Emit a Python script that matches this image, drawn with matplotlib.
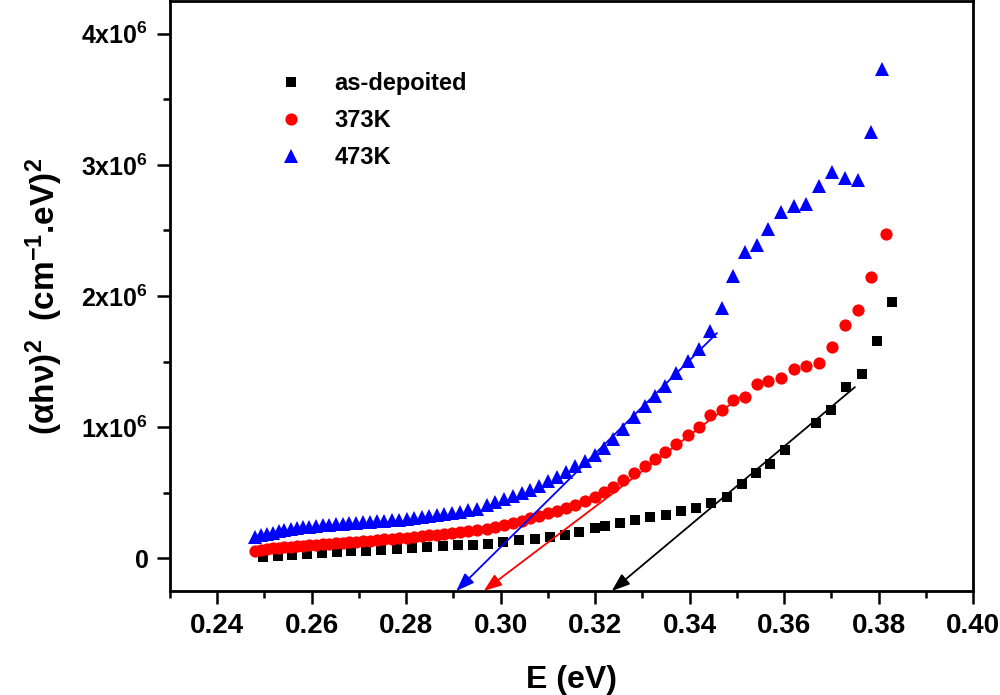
import numpy as np
import matplotlib
matplotlib.use("Agg")
import matplotlib.pyplot as plt
from matplotlib.ticker import MultipleLocator

plt.rcParams['font.family'] = ['Liberation Sans', 'DejaVu Sans']
plt.rcParams['font.weight'] = 'bold'
plt.rcParams['mathtext.fontset'] = 'custom'
plt.rcParams['mathtext.rm'] = 'Liberation Sans:bold'
plt.rcParams['mathtext.it'] = 'Liberation Sans:bold'
plt.rcParams['mathtext.bf'] = 'Liberation Sans:bold'
plt.rcParams['mathtext.default'] = 'rm'

# as-depoited (E in eV, (ahv)^2 in 1e6)
E_asdep = [0.2497, 0.2528, 0.2559, 0.2590, 0.2622, 0.2654, 0.2684, 0.2715, 0.2747, 0.2781,
           0.2813, 0.2844, 0.2878, 0.2910, 0.2942, 0.2974, 0.3006, 0.3039, 0.3072, 0.3104,
           0.3136, 0.3166, 0.3200, 0.3221, 0.3253, 0.3285, 0.3317, 0.3350, 0.3382, 0.3414,
           0.3446, 0.3479, 0.3510, 0.3541, 0.3570, 0.3603, 0.3667, 0.3699, 0.3732, 0.3764,
           0.3797, 0.3829]
A_asdep = [0.011, 0.018, 0.025, 0.033, 0.040, 0.048, 0.053, 0.057, 0.065, 0.072,
           0.080, 0.086, 0.091, 0.099, 0.104, 0.112, 0.124, 0.137, 0.145, 0.162,
           0.175, 0.200, 0.231, 0.244, 0.269, 0.290, 0.315, 0.333, 0.358, 0.381,
           0.421, 0.467, 0.569, 0.653, 0.722, 0.823, 1.031, 1.128, 1.305, 1.407,
           1.656, 1.953]

# 373K
E_373 = [0.2479, 0.2492, 0.2505, 0.2518, 0.2530, 0.2542, 0.2556, 0.2569, 0.2582, 0.2595,
         0.2609, 0.2623, 0.2637, 0.2651, 0.2666, 0.2680, 0.2694, 0.2709, 0.2723, 0.2738,
         0.2753, 0.2769, 0.2785, 0.2801, 0.2817, 0.2833, 0.2849, 0.2865, 0.2880, 0.2897,
         0.2914, 0.2931, 0.2950, 0.2971, 0.2988, 0.3007, 0.3026, 0.3045, 0.3062, 0.3081,
         0.3101, 0.3119, 0.3139, 0.3158, 0.3179, 0.3199, 0.3219, 0.3238, 0.3259, 0.3283,
         0.3306, 0.3327, 0.3348, 0.3371, 0.3397, 0.3420, 0.3443, 0.3469, 0.3492, 0.3517,
         0.3543, 0.3566, 0.3594, 0.3621, 0.3647, 0.3674, 0.3702, 0.3729, 0.3757, 0.3784,
         0.3816]
A_373 = [0.057, 0.065, 0.072, 0.076, 0.080, 0.084, 0.088, 0.091, 0.095, 0.099,
         0.103, 0.107, 0.110, 0.114, 0.118, 0.122, 0.126, 0.130, 0.135, 0.139,
         0.145, 0.149, 0.152, 0.158, 0.164, 0.169, 0.175, 0.181, 0.187, 0.194,
         0.202, 0.210, 0.217, 0.225, 0.236, 0.251, 0.269, 0.286, 0.305, 0.324,
         0.343, 0.362, 0.381, 0.404, 0.437, 0.467, 0.505, 0.543, 0.594, 0.650,
         0.703, 0.760, 0.810, 0.874, 0.937, 1.000, 1.090, 1.133, 1.209, 1.229,
         1.331, 1.351, 1.374, 1.445, 1.463, 1.488, 1.610, 1.778, 1.890, 2.146,
         2.471]

# 473K
E_473 = [0.2479, 0.2492, 0.2505, 0.2518, 0.2530, 0.2542, 0.2556, 0.2569, 0.2582, 0.2595,
         0.2609, 0.2623, 0.2637, 0.2651, 0.2666, 0.2680, 0.2694, 0.2709, 0.2723, 0.2738,
         0.2753, 0.2769, 0.2785, 0.2801, 0.2817, 0.2833, 0.2849, 0.2865, 0.2880, 0.2897,
         0.2914, 0.2931, 0.2950, 0.2971, 0.2988, 0.3007, 0.3026, 0.3045, 0.3062, 0.3081,
         0.3101, 0.3119, 0.3139, 0.3158, 0.3179, 0.3199, 0.3219, 0.3238, 0.3259, 0.3283,
         0.3306, 0.3327, 0.3348, 0.3371, 0.3397, 0.3420, 0.3443, 0.3469, 0.3492, 0.3517,
         0.3543, 0.3566, 0.3594, 0.3621, 0.3647, 0.3674, 0.3702, 0.3729, 0.3757, 0.3784,
         0.3807]
A_473 = [0.162, 0.175, 0.185, 0.196, 0.206, 0.213, 0.223, 0.231, 0.236, 0.242,
         0.246, 0.251, 0.254, 0.259, 0.264, 0.267, 0.269, 0.274, 0.280, 0.282,
         0.286, 0.290, 0.295, 0.299, 0.307, 0.315, 0.320, 0.328, 0.335, 0.343,
         0.350, 0.366, 0.379, 0.406, 0.427, 0.450, 0.472, 0.495, 0.522, 0.549,
         0.587, 0.619, 0.659, 0.701, 0.743, 0.789, 0.838, 0.907, 0.983, 1.074,
         1.158, 1.234, 1.316, 1.412, 1.506, 1.595, 1.730, 1.907, 2.149, 2.339,
         2.390, 2.509, 2.644, 2.686, 2.702, 2.840, 2.949, 2.898, 2.885, 3.253,
         3.733]

# linear fits: arrow tip on the E axis (band gap) and upper end of the line
fit_gap = [0.3235, 0.2964, 0.2906]
fit_end_E = [0.3750, 0.3517, 0.3458]
fit_end_A = [1.305, 1.257, 1.717]
fit_colors = ['black', 'red', 'blue']

x_ticks = [0.24, 0.26, 0.28, 0.30, 0.32, 0.34, 0.36, 0.38, 0.40]
x_labels = ['0.24', '0.26', '0.28', '0.30', '0.32', '0.34', '0.36', '0.38', '0.40']
y_ticks = [0, 1e6, 2e6, 3e6, 4e6]
y_labels = ['0', '1x10$^{6}$', '2x10$^{6}$', '3x10$^{6}$', '4x10$^{6}$']

fig = plt.figure(figsize=(10, 6.95), dpi=100)
ax = fig.add_axes([0.170, 0.1496, 0.803, 0.849])

ax.plot(E_asdep, np.array(A_asdep) * 1e6, 's', color='black', ms=7.2, mew=0, label='as-depoited')
ax.plot(E_373, np.array(A_373) * 1e6, 'o', color='red', ms=8.8, mew=0, label='373K')
ax.plot(E_473, np.array(A_473) * 1e6, '^', color='blue', ms=9.6, mew=0, label='473K')

for g, xe, ye, c in zip(fit_gap, fit_end_E, fit_end_A, fit_colors):
    ax.annotate('', xy=(g, -0.25e6), xytext=(xe, ye * 1e6),
                arrowprops=dict(arrowstyle='-|>,head_length=0.55,head_width=0.2',
                                mutation_scale=20, color=c, lw=1.3,
                                shrinkA=0, shrinkB=0),
                annotation_clip=False)

ax.set_xlim(0.23, 0.40)
ax.set_ylim(-0.25e6, 4.25e6)
ax.set_xticks(x_ticks)
ax.set_xticklabels(x_labels, fontsize=20, weight='bold')
ax.xaxis.set_minor_locator(MultipleLocator(0.01))
ax.set_yticks(y_ticks)
ax.set_yticklabels(y_labels, fontsize=18, weight='bold')
ax.yaxis.set_minor_locator(MultipleLocator(0.5e6))
ax.tick_params(which='major', direction='out', length=9.5, width=1.8)
ax.tick_params(axis='x', which='major', pad=6)
ax.tick_params(axis='y', which='major', pad=6)
ax.tick_params(which='minor', direction='out', length=5, width=1.8)
for s in ax.spines.values():
    s.set_linewidth(2)

ax.set_xlabel('E (eV)', fontsize=23, weight='bold', labelpad=19)
ax.set_ylabel('(αhν)$^{2}$  (cm$^{-1}$.eV)$^{2}$', fontsize=24, weight='bold', labelpad=12)

ax.legend(loc='upper left', bbox_to_anchor=(0.136, 0.880), frameon=False,
          prop={'size': 17, 'weight': 'bold'}, handlelength=1.0, handletextpad=1.35,
          labelspacing=0.6, borderpad=0, borderaxespad=0)

fig.savefig('out.png', dpi=100)
